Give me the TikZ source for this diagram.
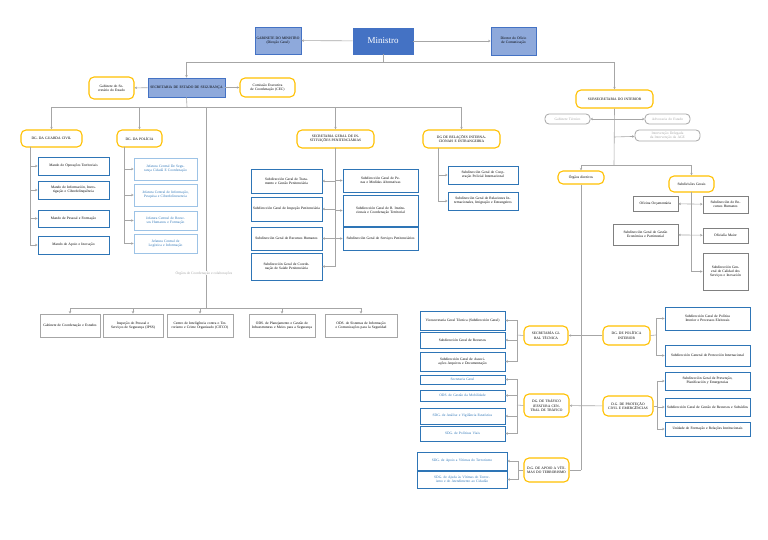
\documentclass[tikz,border=0pt]{standalone}
\usepackage{fontspec}
\setmainfont{Liberation Serif}
\usetikzlibrary{arrows.meta}
\definecolor{ylw}{HTML}{FFC000}
\definecolor{tealb}{HTML}{2E75B6}
\definecolor{lb}{HTML}{9DC3E6}
\definecolor{gl}{HTML}{A6A6A6}
\definecolor{dblue}{HTML}{4472C4}
\definecolor{mblue}{HTML}{8EA9DB}
\tikzset{
 base/.style={inner sep=0.5pt,align=center,font=\fontsize{3.6}{4.2}\selectfont},
 yb/.style={base,draw=ylw,line width=1.1pt,rounded corners=5pt},
 gb/.style={base,draw=gl,line width=0.8pt,rounded corners=4pt,text=gl},
 tb/.style={base,draw=tealb,line width=0.8pt},
 pb/.style={base,draw=lb,line width=0.8pt,text=tealb},
 sb/.style={base,draw=gray,line width=0.8pt},
 mb/.style={base,draw=dblue,fill=mblue,line width=0.8pt},
 ln/.style={draw=gl,line width=0.6pt},
 ar/.style={ln,-{Stealth[length=2.5pt,width=2.5pt]}},
 ar2/.style={ln,{Stealth[length=2.5pt,width=2.5pt]}-{Stealth[length=2.5pt,width=2.5pt]}},
}
\newcommand\bx[7][]{\pgfmathsetmacro\bw{#5-#3}\pgfmathsetmacro\bh{#6-#4}\pgfmathsetmacro\tw{#5-#3-3}%
 \node[#2,#1,minimum width=\bw pt,minimum height=\bh pt,text width=\tw pt] (#7) at ({(#3+#5)/2},{(#4+#6)/2}) {\strut};}
\newcommand\bt[8][]{\pgfmathsetmacro\bw{#5-#3}\pgfmathsetmacro\bh{#6-#4}\pgfmathsetmacro\tw{#5-#3-3}%
 \node[#2,#1,minimum width=\bw pt,minimum height=\bh pt,text width=\tw pt] (#7) at ({(#3+#5)/2},{(#4+#6)/2}) {#8};}
\begin{document}
\begin{tikzpicture}[x=1pt,y=-1pt]
\useasboundingbox (0,0) rectangle (768,540);
% top
\bt[fill=dblue,text=white,font=\fontsize{9}{10}\selectfont]{mb}{353}{28}{413}{54}{min}{Ministro}
\bt{mb}{255}{27}{301}{54}{gab}{GABINETE DO MINISTRO\\(Direção Geral)}
\bt{mb}{491}{27}{536}{55}{dir}{Diretor do Ofício de Comunicação}
\draw[ar] (min) -- (gab);
\draw[ar] (min) -- (dir);
\coordinate (t1) at (383,62);
\draw[ln] (min.south) -- (t1);
\bt{mb}{148}{78}{225}{97}{sec}{SECRETARIA DE ESTADO DE SEGURANÇA}
\bt{yb}{89}{77}{134}{99}{gse}{Gabinete do Secretário do Estado}
\bt{yb}{240}{78}{295}{97}{cec}{Comissão Executiva de Coordenação (CEC)}
\bt{yb}{576}{90}{653}{108}{sub}{SUBSECRETARIA DO INTERIOR}
\draw[ar] (t1) -| (sec.north);
\draw[ar] (t1) -| (sub.north);
\draw[ar] (sec) -- (gse);
\draw[ar] (sec) -- (cec);
% second level
\bt{yb}{21}{130}{82}{147}{dgc}{DG. DA GUARDA CIVIL}
\bt{yb}{117}{130}{162}{147}{dgp}{DG. DA POLÍCIA}
\bt{yb}{297}{130}{374}{148}{sgi}{SECRETARIA GERAL DE INSTITUIÇÕES PENITENCIÁRIAS}
\bt{yb}{423}{130}{500}{148}{dgr}{DG DE RELAÇÕES INTERNACIONAIS E ESTRANGEIRIA}
\coordinate (t2) at (187,107);
\draw[ln] (sec.south) -- (t2);
\draw[ar] (t2) -| (dgc.north);
\draw[ar] (t2) -| (dgp.north);
\draw[ar] (t2) -| (sgi.north);
\draw[ar] (t2) -| (dgr.north);
% guarda civil
\bt{tb}{38}{157}{109}{175}{g1}{Mando de Operações Territoriais}
\bt{tb}{38}{181}{109}{199}{g2}{Mando de Información, Investigação e Ciberdelinquência}
\bt{tb}{38}{210}{109}{227}{g3}{Mando de Pessoal e Formação}
\bt{tb}{38}{236}{109}{254}{g4}{Mando de Apoio e Inovação}
\coordinate (gs) at (30,147);
\foreach \n in {g1,g2,g3,g4}{\draw[ar] (gs) |- (\n.west);}
% policia
\bt{pb}{134}{158}{197}{180}{p1}{Jefatura Central De Segurança Cidadã E Coordenação}
\bt{pb}{134}{184}{197}{206}{p2}{Jefatura Central de Informação, Pesquisa e Ciberdelincuencia}
\bt{pb}{134}{211}{197}{230}{p3}{Jefatura Central de Recursos Humanos e Formação}
\bt{pb}{134}{234}{197}{253}{p4}{Jefatura Central de Logística e Informação}
\coordinate (ps) at (124,147);
\foreach \n in {p1,p2,p3,p4}{\draw[ar] (ps) |- (\n.west);}
% coordination
\coordinate (c0) at (206,107);
\coordinate (c1) at (206,308);
\draw[ln] (c0) -- (c1);
\node[base,text=gl,fill=white,inner sep=0.3pt] (olab) at (204,273) {Órgãos de Coordenação e colaborações};
\bt[draw=gl]{sb}{40}{314}{100}{337}{o1}{Gabinete de Coordenação e Estudos}
\bt[draw=gl]{sb}{103}{314}{163}{337}{o2}{Inspeção do Pessoal e Serviços de Segurança (IPSS)}
\bt[draw=gl]{sb}{167}{314}{233}{337}{o3}{Centro de Inteligência contra o Terrorismo e Crime Organizado (CITCO)}
\bt[draw=gl]{sb}{249}{314}{315}{337}{o4}{ODS. de Planejamento e Gestão de Infraestruturas e Meios para a Segurança}
\bt[draw=gl]{sb}{325}{314}{397}{337}{o5}{ODS. de Sistemas de Informação e Comunicações para la Seguridad}
\foreach \n in {o1,o2,o3,o4,o5}{\draw[ar] (c1) -| (\n.north);}
% penitenciarias
\bt{tb}{251}{169}{322}{193}{s1}{Subdirección Geral de Tratamento e Gestão Penitenciária}
\bt{tb}{251}{197}{322}{221}{s2}{Subdirección Geral de Inspeção Penitenciária}
\bt{tb}{251}{227}{322}{250}{s3}{Subdirección Geral de Recursos Humanos}
\bt{tb}{251}{253}{322}{280}{s4}{Subdirección Geral de Coordenação de Saúde Penitenciária}
\bt{tb}{343}{169}{418}{192}{s5}{Subdirección Geral de Penas e Medidas Alternativas}
\bt{tb}{343}{195}{418}{226}{s6}{Subdirección Geral de R. Institucionais e Coordenação Territorial}
\bt{tb}{343}{227}{418}{250}{s7}{Subdirección Geral de Serviços Penitenciários}
\coordinate (ss) at (335,148);
\foreach \n in {s1,s2,s3,s4}{\draw[ar] (ss) |- (\n.east);}
\foreach \n in {s5,s6,s7}{\draw[ar] (ss) |- (\n.west);}
% relacoes
\bt{tb}{448}{166}{518}{184}{r1}{Subdirección Geral de Cooperação Policial Internacional}
\bt{tb}{448}{192}{518}{210}{r2}{Subdirección Geral de Relaciones Internacionales, Imigração e Estrangeiros}
\coordinate (rs) at (438,148);
\foreach \n in {r1,r2}{\draw[ar] (rs) |- (\n.west);}
% subsecretaria
\bt{gb}{545}{114}{590}{124}{gt}{Gabinete Técnico}
\bt{gb}{645}{114}{690}{124}{adv}{Advocacia do Estado}
\bt{gb}{635}{130}{700}{141}{int}{Intervenção Delegada da Intervenção da AGE}
\draw[ar2] (gt) -- (adv);
\coordinate (u1) at (614,137);
\draw[ar] (u1) -- (int);
\coordinate (u2) at (614,165);
\draw[ln] (sub.south) -- (u2);
\bt{yb}{558}{171}{604}{184}{odir}{Órgãos diretivos}
\bt{yb}{669}{176}{714}{192}{sdg}{Subdivisões Gerais}
\draw[ar] (u2) -| (odir.north);
\draw[ar] (u2) -| (sdg.north);
\bt{sb}{633}{196}{678}{211}{oo}{Oficina Orçamentária}
\bt{sb}{703}{196}{748}{213}{srh}{Subdirección de Recursos Humanos}
\bt{sb}{613}{224}{678}{245}{sge}{Subdirección Geral de Gestão Económica e Patrimonial}
\bt{sb}{703}{228}{748}{243}{ofm}{Oficialía Maior}
\bt{sb}{703}{253}{748}{290}{sgc}{Subdirección General de Calidad dos Serviços e Inovación}
\draw[ar2] (oo) -- (srh);
\draw[ar2] (sge) -- (ofm);
\coordinate (v1) at (691,192);
\draw[ar] (v1) |- (sgc.west);
% organos diretivos
\coordinate (w1) at (581,470);
\draw[ln] (odir.south) -- (w1);
\bt{yb}{524}{326}{568}{345}{sgt}{SECRETARÍA GIRAL TÉCNICA}
\bt{yb}{603}{326}{650}{345}{dpi}{DG. DE POLÍTICA INTERIOR}
\bt{yb}{524}{394}{569}{417}{dgt}{DG. DE TRÁFICO JEFATURA CENTRAL DE TRÁFICO}
\bt{yb}{603}{396}{653}{416}{dpc}{D.G. DE PROTEÇÃO CIVIL E EMERGÊNCIAS}
\bt{yb}{524}{458}{569}{482}{dav}{D.G. DE APOIO A VÍTIMAS DO TERRORISMO}
\draw[ar] (dpi) -- (sgt);
\draw[ar] (dpc) -- (dgt);
\draw[ln] (w1) -- (dav);
% SGT children
\bt{tb}{420}{311}{505}{330}{t1b}{Vicesecretaria Geral Técnica (Subdirección Geral)}
\bt{tb}{420}{332}{505}{348}{t2b}{Subdirección Geral de Recursos}
\bt{tb}{420}{352}{505}{371}{t3b}{Subdirección Geral de Associações Arquivos e Documentação}
\coordinate (x1) at (517,335);
\draw[ln] (sgt.west) -- (x1);
\foreach \n in {t1b,t2b,t3b}{\draw[ar] (x1) |- (\n.east);}
% DPI children
\bt{tb}{665}{307}{750}{330}{d1}{Subdirección Geral de Política Interior e Processos Eleitorais}
\bt{tb}{665}{345}{750}{366}{d2}{Subdirección General de Protección Internacional}
\coordinate (x2) at (656,335);
\draw[ln] (dpi.east) -- (x2);
\foreach \n in {d1,d2}{\draw[ar] (x2) |- (\n.west);}
% trafico children
\bt[text=tealb]{tb}{420}{375}{505}{384}{f1}{Secretaria Geral}
\bt[text=tealb]{tb}{420}{390}{505}{401}{f2}{ODS. de Gestão da Mobilidade}
\bt[text=tealb]{tb}{420}{408}{505}{424}{f3}{SDG. de Análise e Vigilância Estatística}
\bt[text=tealb]{tb}{420}{426}{505}{441}{f4}{SDG. de Políticas Viais}
\coordinate (x3) at (517,405);
\draw[ln] (dgt.west) -- (x3);
\foreach \n in {f1,f2,f3,f4}{\draw[ar] (x3) |- (\n.east);}
% protecao children
\bt{tb}{665}{372}{750}{390}{e1}{Subdirección Geral de Prevenção, Planificación y Emergencias}
\bt{tb}{665}{398}{750}{416}{e2}{Subdirección Geral de Gestão de Recursos e Subsídios}
\bt{tb}{665}{422}{750}{436}{e3}{Unidade de Formação e Relações Institucionais}
\coordinate (x4) at (657,406);
\draw[ln] (dpc.east) -- (x4);
\foreach \n in {e1,e2,e3}{\draw[ar] (x4) |- (\n.west);}
% apoio children
\bt[text=tealb]{tb}{417}{452}{507}{470}{a1}{SDG. de Apoio a Vítimas do Terrorismo}
\bt[text=tealb]{tb}{417}{471}{507}{488}{a2}{SDG. de Ajuda às Vítimas do Terrorismo e do Atendimento ao Cidadão}
\coordinate (x5) at (518,470);
\draw[ln] (dav.west) -- (x5);
\foreach \n in {a1,a2}{\draw[ar] (x5) |- (\n.east);}
\end{tikzpicture}
\end{document}
